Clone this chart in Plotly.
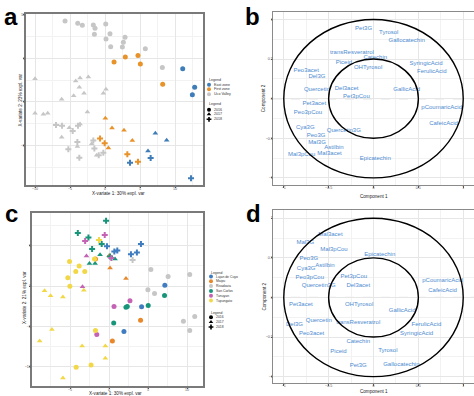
import plotly.graph_objects as go

# ---------------- Panel a data (X-variate 1 / X-variate 2) ----------------
a_east_x = [11.10, 12.81, 12.48, 7.19, 8.81, 6.14, 6.52, 3.57, 12.29]
a_east_y = [3.83, 1.69, 0.84, -3.60, -4.41, -5.63, -6.44, -6.97, -8.77]
a_east_yr = ["2016", "2016", "2016", "2017", "2017", "2017", "2018", "2018", "2018"]

a_first_x = [1.29, 2.90, 4.71, 5.05, 8.24, 0.05, 1.00, 2.71, -0.71, -0.05, 0.48, 3.90, 3.19, 4.71]
a_first_y = [4.60, 5.17, 5.33, 4.37, 2.03, -1.88, -2.99, -3.26, -4.21, -4.75, -5.29, -4.44, -6.02, -6.86]
a_first_yr = ["2016", "2016", "2016", "2016", "2016", "2017", "2017", "2017", "2018", "2018", "2017", "2017", "2018", "2018"]

a_uco_x = [-5.71, -3.90, -3.24, -1.67, -1.43, 0.10, -1.52, 0.71, 0.14, 2.86, 2.62, 0.81, 2.48, 5.76, 8.19,
           -10.0, -4.19, -3.57, -2.38, -3.67, -3.00, -4.48, -6.19, 0.14, -0.24,
           -2.52, -10.0, -8.81, -8.19, -7.00, -6.14, -5.10, -4.62, -3.57, -3.86, -6.19, -3.95, -5.24, -3.95,
           -1.67, -1.90, -1.52, -0.24, -1.19, -0.90, -3.67]
a_uco_y = [9.31, 9.04, 8.81, 8.85, 8.47, 8.97, 7.78, 7.85, 7.24, 7.43, 6.86, 6.36, 6.32, 6.13, 3.95,
           2.68, 2.41, 2.76, 2.87, 1.69, 1.00, 0.73, 0.31, 1.46, 1.00,
           -1.15, -1.30, -1.42, -1.30, -2.64, -2.72, -2.95, -3.33, -2.53, -2.72, -4.06, -4.60, -5.44, -5.13,
           -4.44, -4.79, -5.36, -5.82, -6.13, -6.13, -6.40]
a_uco_yr = ["2016"] * 15 + ["2017"] * 10 + \
           ["2017", "2017", "2017", "2017", "2018", "2018", "2017", "2018", "2017", "2018", "2017", "2018", "2018", "2017",
            "2018", "2017", "2018", "2018", "2017", "2018", "2018"]

# ---------------- Panel c data ----------------
c_lujan_x = [-0.26, 0.68, 1.06, 2.81, 3.57, 4.09, 7.15, 4.17, 1.91]
c_lujan_y = [4.92, 4.30, 4.42, 3.93, 4.17, 5.21, 0.12, -2.56, -5.62]
c_lujan_yr = ["2018", "2018", "2018", "2018", "2018", "2018", "2016", "2016", "2016"]

c_maipu_x = [-1.74, 0.00, 0.13, 2.17, 4.04, 0.43]
c_maipu_y = [3.35, 3.76, 2.23, 0.95, -4.21, -6.78]
c_maipu_yr = ["2016", "2017", "2017", "2017", "2016", "2016"]

c_riva_x = [3.02, 5.36, 7.57, 10.34, 4.98, 5.83, 10.98, 9.53, 10.34]
c_riva_y = [3.22, 2.07, 1.20, 1.45, -0.45, -0.91, -3.76, -4.34, -5.50]
c_riva_yr = ["2018", "2016", "2016", "2016", "2016", "2016", "2016", "2016", "2016"]

c_sancarlos_x = [-0.38, -4.00, -2.64, -0.94, -2.17, -1.15, -2.51, -1.79, 0.13, 0.77, 2.17, 2.34, 5.02, 0.60, 7.11]
c_sancarlos_y = [8.10, 6.57, 6.03, 5.21, 4.59, 3.88, 2.81, 2.81, 3.68, 3.35, -2.60, -2.52, -2.40, -4.55, -1.16]
c_sancarlos_yr = ["2018", "2018", "2018", "2018", "2018", "2017", "2017", "2017", "2018", "2017", "2016", "2016", "2016", "2016", "2016"]

c_tunuyan_x = [-0.55, -3.06, -2.89, 0.30, -3.40, 2.68, 0.64, -1.57]
c_tunuyan_y = [6.32, 5.58, 3.72, 3.47, -0.08, -1.82, -2.52, -5.99]
c_tunuyan_yr = ["2018", "2018", "2017", "2018", "2017", "2016", "2016", "2016"]

c_tupungato_x = [-1.28, -1.87, -5.06, -3.83, -4.26, -3.11, -5.28, -5.02, -3.23, -8.26, -7.49, -5.91,
                 -7.32, -8.89, -1.74, -3.45, -0.47, -0.47, -2.30, -4.21, -5.91]
c_tupungato_y = [5.70, 3.35, 3.06, 2.48, 1.82, 1.82, 1.03, 0.00, -0.50, -0.58, -1.20, -1.36,
                 -5.37, -6.78, -5.50, -7.40, -7.40, -8.93, -9.75, -10.04, -11.36]
c_tupungato_yr = ["2018", "2016", "2016", "2016", "2016", "2016", "2016", "2016", "2017", "2017", "2017", "2017",
                  "2017", "2017", "2016", "2017", "2017", "2017", "2016", "2016", "2017"]

# ---------------- Panel b / d: correlation circle variables ----------------
b_vars = ["Pet3G", "Tyrosol", "Gallocatechin", "transResveratrol", "Catechin", "Piceid", "OHTyrosol",
          "SyringicAcid", "FerulicAcid", "Peo3acet", "Del3G", "Quercetin", "Del3acet", "Pet3pCou",
          "GallicAcid", "Pet3acet", "Peo3pCou", "pCoumaricAcid", "Cya3G", "Quercetin3G", "Peo3G",
          "CafeicAcid", "Mal3G", "Astilbin", "Mal3acet", "Mal3pCou", "Epicatechin"]
b_c1 = [-0.11, 0.17, 0.37, -0.24, 0.02, -0.33, -0.06, 0.585, 0.65, -0.75, -0.63, -0.63, -0.30, -0.19,
        0.37, -0.66, -0.73, 0.76, -0.76, -0.33, -0.64, 0.78, -0.63, -0.44, -0.49, -0.80, 0.02]
b_c2 = [0.89, 0.84, 0.74, 0.585, 0.52, 0.46, 0.39, 0.44, 0.34, 0.36, 0.28, 0.12, 0.13, 0.03,
        0.11, -0.06, -0.17, -0.11, -0.36, -0.40, -0.46, -0.31, -0.55, -0.62, -0.69, -0.71, -0.76]

d_vars = ["Mal3acet", "Mal3G", "Mal3pCou", "Epicatechin", "Peo3G", "Cya3G", "Astilbin", "Peo3pCou",
          "Pet3pCou", "Quercetin3G", "Del3acet", "pCoumaricAcid", "CafeicAcid", "Pet3acet", "OHTyrosol",
          "GallicAcid", "Quercetin", "transResveratrol", "Del3G", "Peo3acet", "FerulicAcid",
          "SyringicAcid", "Catechin", "Tyrosol", "Piceid", "Pet3G", "Gallocatechin"]
d_c1 = [-0.48, -0.76, -0.44, 0.07, -0.72, -0.75, -0.54, -0.71, -0.22, -0.61, -0.17, 0.77, 0.77, -0.81,
        -0.16, 0.32, -0.61, -0.17, -0.88, -0.69, 0.59, 0.48, -0.17, 0.16, -0.39, -0.17, 0.31]
d_c2 = [0.80, 0.69, 0.60, 0.54, 0.49, 0.37, 0.40, 0.25, 0.26, 0.15, 0.15, 0.22, 0.09, -0.09,
        -0.09, -0.16, -0.29, -0.32, -0.34, -0.45, -0.34, -0.45, -0.56, -0.67, -0.68, -0.86, -0.85]

circle_radii = [0.5, 1.0]

a_groups = ["East zone", "First zone", "Uco Valley"]
c_groups = ["Lujan de Cuyo", "Maipu", "Rivadavia", "San Carlos", "Tunuyan", "Tupungato"]
years = ["2016", "2017", "2018"]

# ---------------- styling ----------------
W, H = 474, 396
FONT = "Liberation Sans, Arial, sans-serif"
a_colors = ["#3F7DB8", "#E8922A", "#C6C6C6"]
c_colors = ["#3F7DC0", "#E8882B", "#C6C6C6", "#17957A", "#C462B4", "#F2D846"]
year_symbol = {"2016": "circle", "2017": "triangle-up", "2018": "cross"}
var_color = "#4E8BD0"

fig = go.Figure()


def add_points(xs, ys, yrs, color, xa, ya):
    fig.add_trace(go.Scatter(
        x=xs, y=ys, mode="markers", xaxis=xa, yaxis=ya, showlegend=False,
        marker=dict(color=color, size=5, symbol=[year_symbol[v] for v in yrs], line=dict(width=0)),
        hoverinfo="skip"))


for (xs, ys, yrs), col in zip([(a_east_x, a_east_y, a_east_yr), (a_first_x, a_first_y, a_first_yr),
                               (a_uco_x, a_uco_y, a_uco_yr)], a_colors):
    add_points(xs, ys, yrs, col, "x", "y")

for (xs, ys, yrs), col in zip([(c_lujan_x, c_lujan_y, c_lujan_yr), (c_maipu_x, c_maipu_y, c_maipu_yr),
                               (c_riva_x, c_riva_y, c_riva_yr), (c_sancarlos_x, c_sancarlos_y, c_sancarlos_yr),
                               (c_tunuyan_x, c_tunuyan_y, c_tunuyan_yr),
                               (c_tupungato_x, c_tupungato_y, c_tupungato_yr)], c_colors):
    add_points(xs, ys, yrs, col, "x3", "y3")

# correlation circle labels
for names, c1, c2, xa, ya in [(b_vars, b_c1, b_c2, "x2", "y2"), (d_vars, d_c1, d_c2, "x4", "y4")]:
    fig.add_trace(go.Scatter(
        x=c1, y=c2, text=names, mode="text", xaxis=xa, yaxis=ya, showlegend=False,
        textposition="middle center", textfont=dict(size=6, color=var_color, family=FONT),
        hoverinfo="skip"))

shapes = []
for xr, yr_ in [("x2", "y2"), ("x4", "y4")]:
    for r in circle_radii:
        shapes.append(dict(type="circle", xref=xr, yref=yr_, x0=-r, x1=r, y0=-r, y1=r,
                           line=dict(color="black", width=1.4), layer="above"))
    shapes.append(dict(type="line", xref=xr, yref=yr_ + " domain", x0=0, x1=0, y0=0, y1=1,
                       line=dict(color="#9A9A9A", width=1, dash="dash"), layer="below"))
    shapes.append(dict(type="line", xref=xr + " domain", yref=yr_, x0=0, x1=1, y0=0, y1=0,
                       line=dict(color="#9A9A9A", width=1, dash="dash"), layer="below"))

# ---------------- custom legends (pixel overlay axis) ----------------
annotations = []


def legend_block(x_mark, y_title, y_items, labels, colors, symbols, fs):
    annotations.append(dict(xref="x5", yref="y5", x=x_mark - 2, y=y_title, text="Legend", showarrow=False,
                            xanchor="left", yanchor="middle", font=dict(size=fs, color="#333", family=FONT)))
    fig.add_trace(go.Scatter(x=[x_mark] * len(labels), y=y_items, mode="markers", xaxis="x5", yaxis="y5",
                             showlegend=False, hoverinfo="skip",
                             marker=dict(color=colors, symbol=symbols, size=4, line=dict(width=0))))
    for yy, lab in zip(y_items, labels):
        annotations.append(dict(xref="x5", yref="y5", x=x_mark + 3, y=yy, text=lab, showarrow=False,
                                xanchor="left", yanchor="middle", font=dict(size=fs, color="#333", family=FONT)))


legend_block(209, 80, [84.7, 89.3, 94.3], a_groups, a_colors, ["circle"] * 3, 3.6)
legend_block(209, 104.3, [109.7, 114.3, 119.3], years, ["black"] * 3, [year_symbol[y] for y in years], 3.6)
legend_block(211, 272.5, [276.5, 281.3, 286.1, 290.9, 295.7, 300.5], c_groups, c_colors, ["circle"] * 6, 3.4)
legend_block(211, 312.7, [317.3, 322.0, 327.0], years, ["black"] * 3, [year_symbol[y] for y in years], 3.4)

# panel letters
for lab, x, y in [("a", 2, 0.5), ("b", 243, 1), ("c", 3, 198), ("d", 244, 198)]:
    annotations.append(dict(xref="x5", yref="y5", x=x, y=y, text="<b>%s</b>" % lab, showarrow=False,
                            xanchor="left", yanchor="top", font=dict(size=24, color="black", family=FONT)))

# axis titles (placed as annotations for tight control)
axis_titles = [
    ("X-variate 1: 30% expl. var", 118, 193.5, 0, 4.6),
    ("X-variate 2: 23% expl. var", 19.5, 100, -90, 4.6),
    ("Component 1", 373.7, 196, 0, 4.6),
    ("Component 2", 263.5, 98.7, -90, 4.6),
    ("X-variate 1: 30% expl. var", 115, 393, 0, 4.6),
    ("X-variate 2: 21% expl. var", 24, 298, -90, 4.6),
    ("Component 1", 373.7, 391, 0, 4.6),
    ("Component 2", 263.5, 297, -90, 4.6),
]
for txt, x, y, ang, fs in axis_titles:
    annotations.append(dict(xref="x5", yref="y5", x=x, y=y, text=txt, showarrow=False, textangle=ang,
                            xanchor="center", yanchor="middle", font=dict(size=fs, color="#222", family=FONT)))


def px_dom_x(l, r):
    return [l / W, r / W]


def px_dom_y(t, b):
    return [1 - b / H, 1 - t / H]


def sc_axis(dom, rng, tickvals, frame_w, frame_c, anchor, minor_dtick):
    return dict(domain=dom, range=rng, tickvals=tickvals, anchor=anchor,
                showgrid=True, gridcolor="#E6E6E6", gridwidth=0.6,
                minor=dict(dtick=minor_dtick, showgrid=True, gridcolor="#F2F2F2", gridwidth=0.4),
                zeroline=False, showline=True, mirror=True, linecolor=frame_c, linewidth=frame_w,
                ticks="outside", ticklen=1.5, tickcolor="#555", tickwidth=0.6,
                ticklabelstandoff=-3,
                tickfont=dict(size=3.6, color="#555", family=FONT))


layout = dict(
    width=W, height=H, margin=dict(l=0, r=0, t=0, b=0, autoexpand=False), paper_bgcolor="white",
    plot_bgcolor="rgba(0,0,0,0)",
    showlegend=False,
    xaxis=sc_axis(px_dom_x(26, 203), [-11.29, 14.0], [-10, -5, 0, 5, 10], 1.8, "#7A7A7A", "y", 2.5),
    yaxis=sc_axis(px_dom_y(14, 185), [-9.54, 10.11], [-5, 0, 5, 10], 1.8, "#7A7A7A", "x", 2.5),
    xaxis2=sc_axis(px_dom_x(273, 474), [-1.12, 1.12], [-1, -0.5, 0, 0.5, 1], 1.0, "#8A8A8A", "y2", 0.25),
    yaxis2=sc_axis(px_dom_y(12.3, 185), [-1.09, 1.09], [-1, -0.5, 0, 0.5, 1], 1.0, "#8A8A8A", "x2", 0.25),
    xaxis3=sc_axis(px_dom_x(32, 203), [-9.87, 12.04], [-5, 0, 5, 10], 1.8, "#7A7A7A", "y3", 2.5),
    yaxis3=sc_axis(px_dom_y(213, 386), [-12.36, 9.05], [-10, -5, 0, 5], 1.8, "#7A7A7A", "x3", 2.5),
    xaxis4=sc_axis(px_dom_x(273, 474), [-1.12, 1.12], [-1, -0.5, 0, 0.5, 1], 1.0, "#8A8A8A", "y4", 0.25),
    yaxis4=sc_axis(px_dom_y(210.3, 383), [-1.08, 1.1], [-1, -0.5, 0, 0.5, 1], 1.0, "#8A8A8A", "x4", 0.25),
    xaxis5=dict(domain=[0, 1], range=[0, W], visible=False, anchor="y5", fixedrange=True),
    yaxis5=dict(domain=[0, 1], range=[H, 0], visible=False, anchor="x5", fixedrange=True),
    shapes=shapes, annotations=annotations,
)
fig.update_layout(**layout)
fig.write_html("out.html", config={"displayModeBar": False},
               post_script="document.body.style.margin='0';document.body.style.padding='0';"
                           "document.body.style.overflow='hidden';")
